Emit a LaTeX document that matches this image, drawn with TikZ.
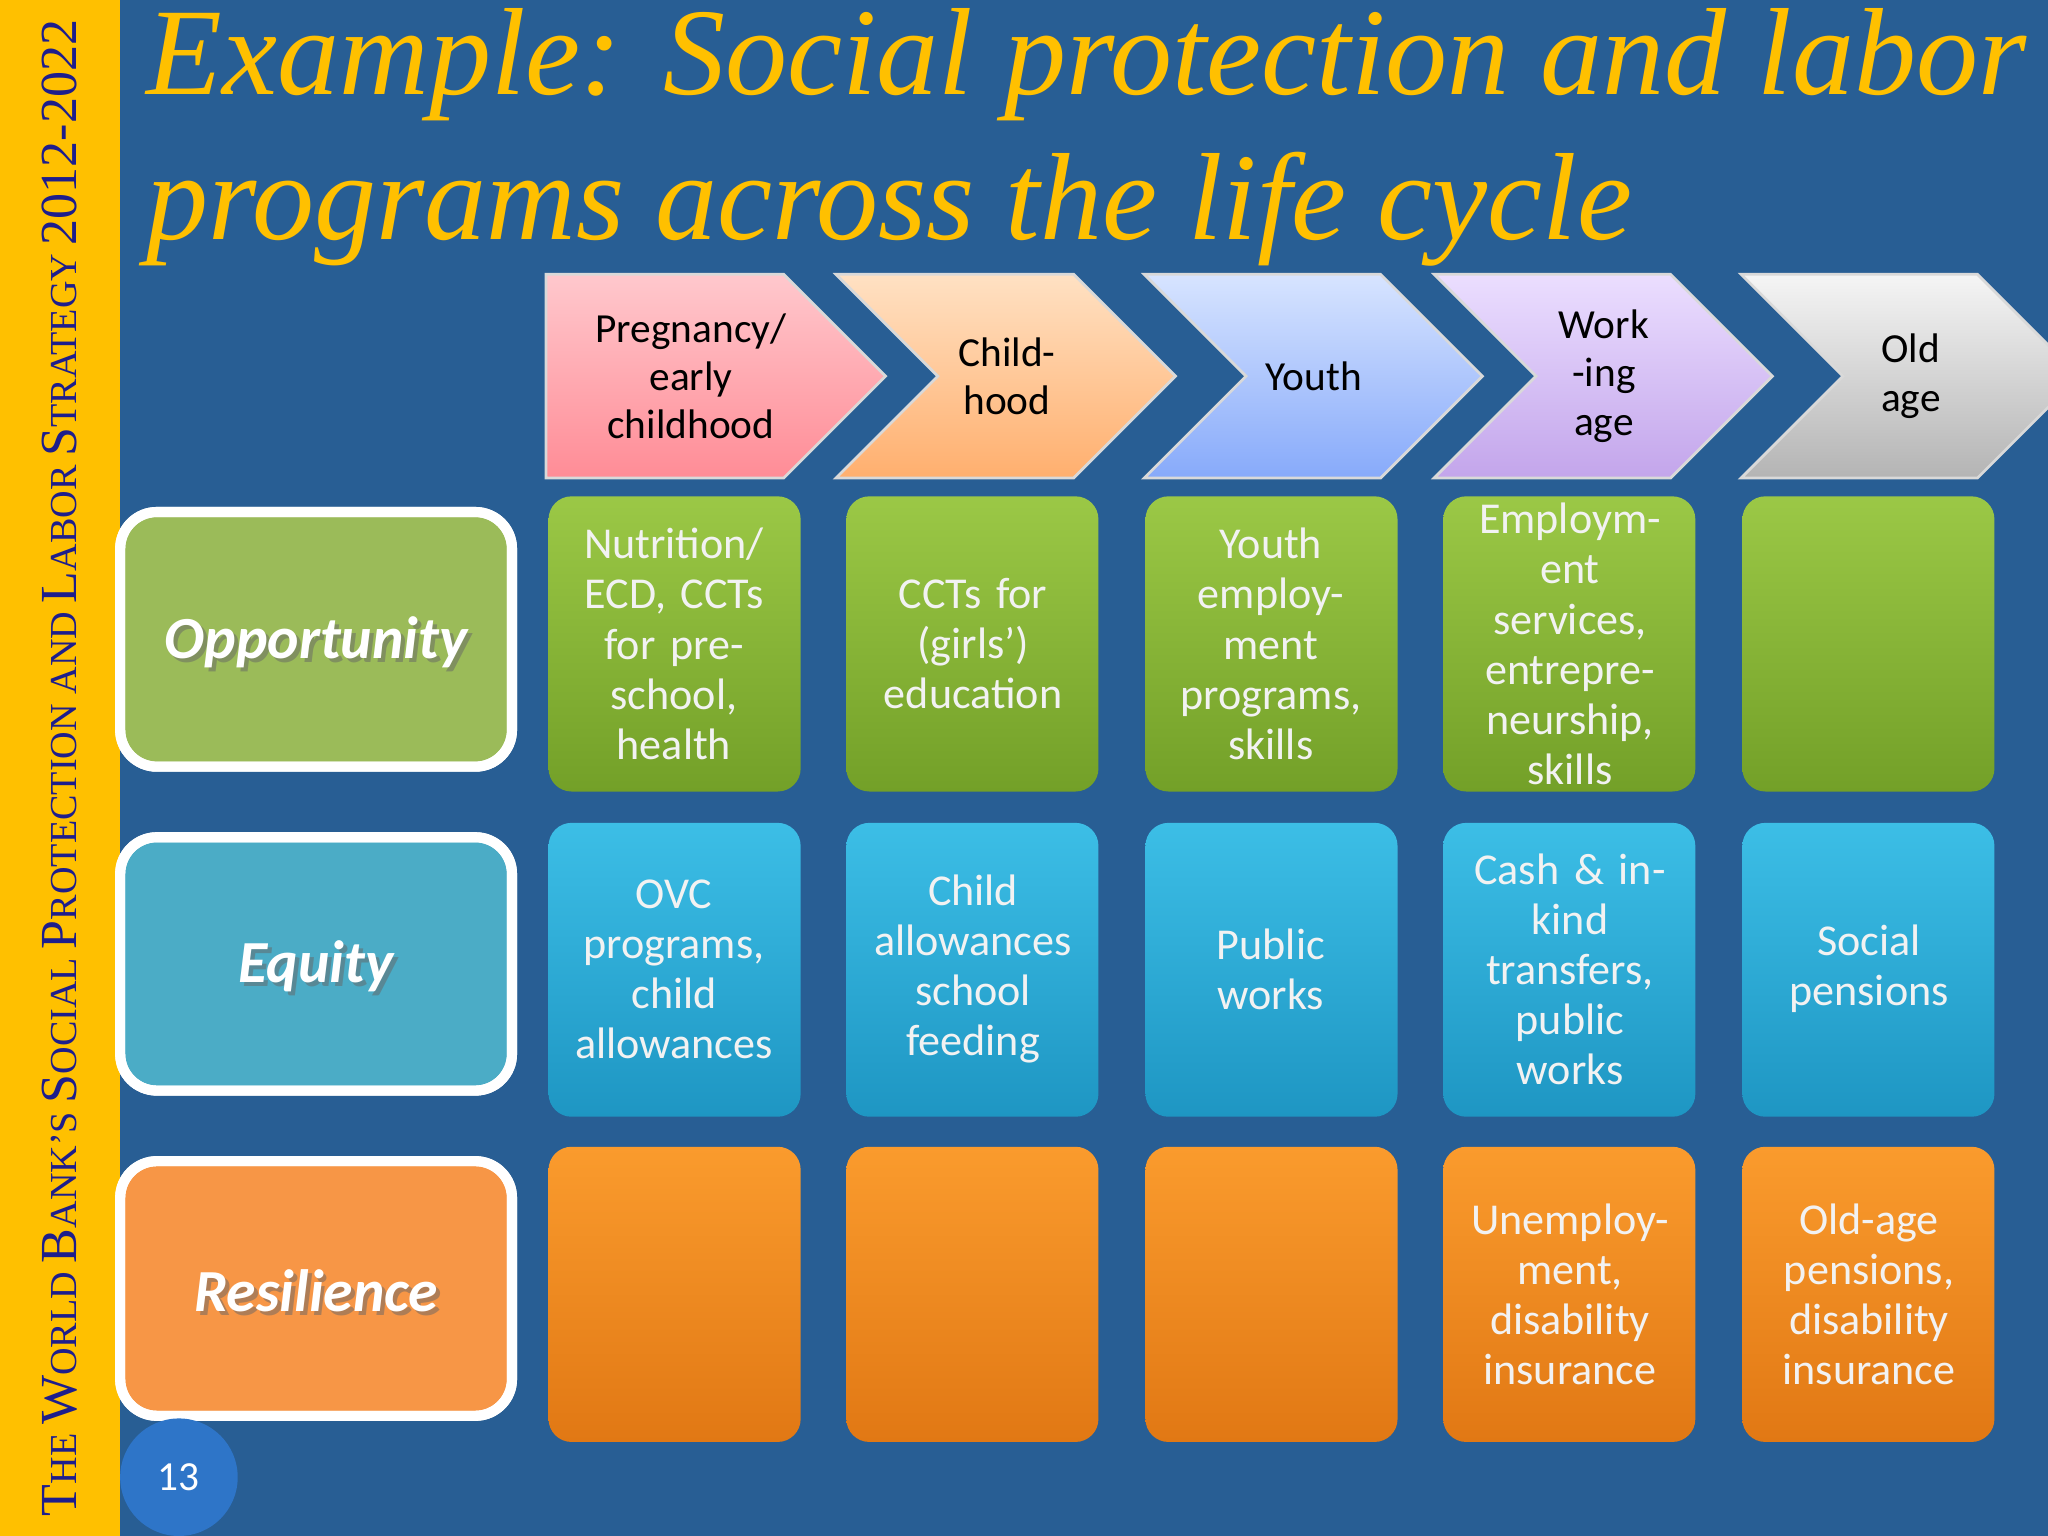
\documentclass[tikz,border=0pt]{standalone}
\usepackage{graphicx}
\usepackage{fontspec}
\setmainfont{Liberation Serif}
\setsansfont{Carlito}
\newcommand\scw[2]{{\fontsize{15}{15}\selectfont #1}{\fontsize{11}{11}\selectfont #2}}
\begin{document}
\begin{tikzpicture}[x=0.01cm,y=-0.01cm,
  cell/.style={rounded corners=5pt,draw=none},
  celltxt/.style={text=white!95!black,font=\sffamily\fontsize{9.6}{10.9}\selectfont,align=center,text width=1.85cm},
  rowbox/.style={rounded corners=8pt,draw=white,line width=2.2pt},
  rowtxt/.style={text=white,font=\sffamily\bfseries\itshape\fontsize{13}{15}\selectfont},
  chev/.style={draw=white!70!gray,line width=0.6pt},
  chevtxt/.style={font=\sffamily\fontsize{9}{10.5}\selectfont,align=center,text=black}]
\useasboundingbox (0,0) rectangle (1568,1176);
\fill[fill={rgb,255:red,40;green,94;blue,148}] (0,0) rectangle (1568,1176);
\fill[fill={rgb,255:red,255;green,192;blue,0}] (0,0) rectangle (92,1176);
\node[rotate=90,anchor=center,inner sep=0pt,text={rgb,255:red,30;green,30;blue,140}] (side) at (46,588) {\resizebox{11.45cm}{!}{\scw{T}{HE} \scw{W}{ORLD} \scw{B}{ANK'S} \scw{S}{OCIAL} \scw{P}{ROTECTION AND} \scw{L}{ABOR} \scw{S}{TRATEGY} \scw{2012-2022}{}}};
\node[anchor=west,text={rgb,255:red,255;green,192;blue,0},font=\itshape\fontsize{27}{31.5}\selectfont,align=left] (title) at (100,105) {Example: Social protection and labor\\programs across the life cycle};
% chevrons
\shade[chev,top color={rgb,255:red,255;green,200;blue,205},bottom color={rgb,255:red,255;green,140;blue,150}] (418,210) -- (600,210) -- (678,288) -- (600,366) -- (418,366) -- cycle;
\shade[chev,top color={rgb,255:red,255;green,225;blue,195},bottom color={rgb,255:red,255;green,175;blue,110}] (640,210) -- (822,210) -- (900,288) -- (822,366) -- (640,366) -- (718,288) -- cycle;
\shade[chev,top color={rgb,255:red,215;green,228;blue,255},bottom color={rgb,255:red,135;green,170;blue,250}] (876,210) -- (1057,210) -- (1135,288) -- (1057,366) -- (876,366) -- (954,288) -- cycle;
\shade[chev,top color={rgb,255:red,235;green,222;blue,255},bottom color={rgb,255:red,195;green,165;blue,235}] (1098,210) -- (1279,210) -- (1357,288) -- (1279,366) -- (1098,366) -- (1176,288) -- cycle;
\shade[chev,top color={rgb,255:red,245;green,245;blue,245},bottom color={rgb,255:red,180;green,180;blue,180}] (1333,210) -- (1514,210) -- (1592,288) -- (1514,366) -- (1333,366) -- (1411,288) -- cycle;
\node[chevtxt] (c1) at (529,288) {Pregnancy/\\early\\childhood};
\node[chevtxt] (c2) at (771,288) {Child-\\hood};
\node[chevtxt] (c3) at (1006,288) {Youth};
\node[chevtxt] (c4) at (1228,288) {Work\\-ing\\age};
\node[chevtxt] (c5) at (1463,288) {Old\\age};
% row labels
\fill[rowbox,fill={rgb,255:red,155;green,187;blue,89}] (92,392) rectangle (392,587);
\fill[rowbox,fill={rgb,255:red,75;green,172;blue,198}] (92,641) rectangle (392,835);
\fill[rowbox,fill={rgb,255:red,247;green,150;blue,70}] (92,889) rectangle (392,1084);
\draw[rowbox] (92,392) rectangle (392,587) (92,641) rectangle (392,835) (92,889) rectangle (392,1084);
\node[rowtxt,text=black!60,opacity=0.5] at (245,495) {Opportunity};
\node[rowtxt] (r1) at (242,492) {Opportunity};
\node[rowtxt,text=black!60,opacity=0.5] at (245,743) {Equity};
\node[rowtxt] (r2) at (242,740) {Equity};
\node[rowtxt,text=black!60,opacity=0.5] at (245,991) {Resilience};
\node[rowtxt] (r3) at (242,988) {Resilience};
% cells
\foreach \x in {420,648,877,1105,1334}{
  \shade[cell,top color={rgb,255:red,155;green,200;blue,70},bottom color={rgb,255:red,115;green,160;blue,40}] (\x,380) rectangle ++(193,226);
  \shade[cell,top color={rgb,255:red,60;green,190;blue,230},bottom color={rgb,255:red,30;green,150;blue,195}] (\x,630) rectangle ++(193,225);
  \shade[cell,top color={rgb,255:red,250;green,155;blue,45},bottom color={rgb,255:red,225;green,120;blue,20}] (\x,878) rectangle ++(193,226);
}
\node[celltxt] (o1) at (516,493) {Nutrition/\\ECD, CCTs\\for pre-\\school,\\health};
\node[celltxt] (o2) at (745,493) {CCTs for\\(girls')\\education};
\node[celltxt] (o3) at (973,493) {Youth\\employ-\\ment\\programs,\\skills};
\node[celltxt] (o4) at (1202,493) {Employm-\\ent\\services,\\entrepre-\\neurship,\\skills};
\node[celltxt] (e1) at (516,742) {OVC\\programs,\\child\\allowances};
\node[celltxt] (e2) at (745,742) {Child\\allowances\\school\\feeding};
\node[celltxt] (e3) at (973,742) {Public\\works};
\node[celltxt] (e4) at (1202,742) {Cash \& in-\\kind\\transfers,\\public\\works};
\node[celltxt] (e5) at (1431,742) {Social\\pensions};
\node[celltxt] (s4) at (1202,991) {Unemploy-\\ment,\\disability\\insurance};
\node[celltxt] (s5) at (1431,991) {Old-age\\pensions,\\disability\\insurance};
% page number
\fill[fill={rgb,255:red,46;green,117;blue,200}] (137,1131) circle (45);
\node[text=white,font=\sffamily\fontsize{9}{10}\selectfont] (pg) at (137,1131) {13};
\end{tikzpicture}
\end{document}
